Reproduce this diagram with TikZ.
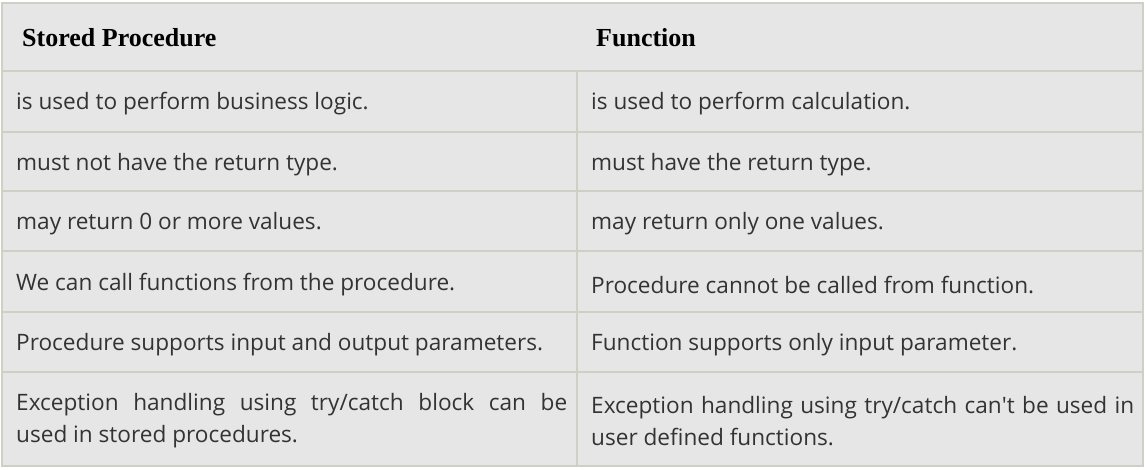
\documentclass[tikz,border=0pt]{standalone}
\usepackage{fontspec}
\setmainfont{Open Sans}
\newfontfamily\hdfont{Liberation Serif}
\definecolor{bg}{HTML}{E6E6E6}
\definecolor{ln}{HTML}{CFCFC5}
\definecolor{tx}{HTML}{333333}
\begin{document}
\begin{tikzpicture}[x=1pt,y=-1pt,
  hd/.style={anchor=west,inner sep=0pt,font=\hdfont\bfseries\fontsize{26}{30}\selectfont,text=black},
  cell/.style={anchor=west,inner sep=0pt,font=\fontsize{22.6}{32}\selectfont,text=tx},
  grid/.style={draw=ln,line width=1.2pt}]
\useasboundingbox (0,0) rectangle (1145,469);
\fill[bg] (2,3) rectangle (1143,466);
\draw[grid] (2,3) rectangle (1143,466);
\foreach \y in {71,132,191,251,312,372} \draw[grid] (2,\y) -- (1143,\y);
\draw[grid] (577,71) -- (577,466);
\node[hd] (h1) at (22,38) {Stored Procedure};
\node[hd] (h2) at (596,38) {Function};
\node[cell] (a1) at (16,104) {is used to perform business logic.};
\node[cell] (b1) at (591,104) {is used to perform calculation.};
\node[cell] (a2) at (16,165) {must not have the return type.};
\node[cell] (b2) at (591,165) {must have the return type.};
\node[cell] (a3) at (16,224) {may return 0 or more values.};
\node[cell] (b3) at (591,224) {may return only one values.};
\node[cell] (a4) at (16,285) {We can call functions from the procedure.};
\node[cell] (b4) at (591,285) {Procedure cannot be called from function.};
\node[cell] (a5) at (16,345) {Procedure supports input and output parameters.};
\node[cell] (b5) at (591,345) {Function supports only input parameter.};
\node[cell,text width=551pt,align=justify] (a6) at (16,421) {\hyphenpenalty=10000 Exception handling using try/catch block can be\linebreak used in stored procedures.};
\node[cell,text width=543pt,align=justify] (b6) at (591,421) {\hyphenpenalty=10000 Exception handling using try/catch can\textquotesingle t be used in\linebreak user defined functions.};
\end{tikzpicture}
\end{document}
